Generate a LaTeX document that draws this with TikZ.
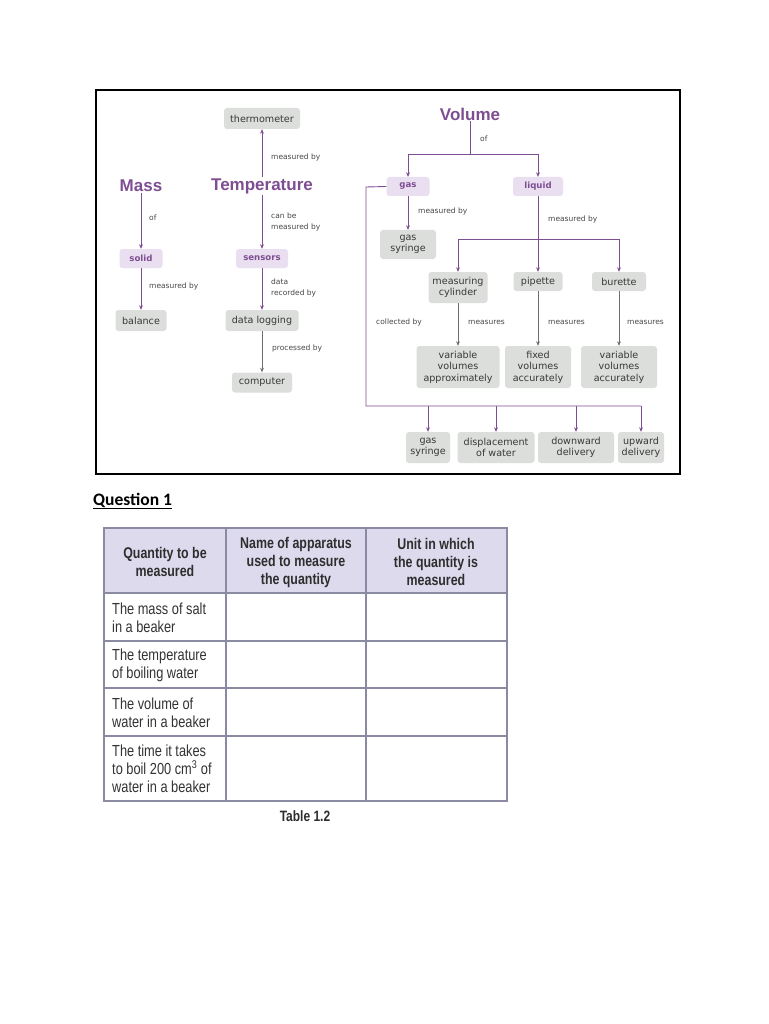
\documentclass[tikz,border=0pt]{standalone}
\usepackage{fontspec}
\setmainfont{DejaVu Sans}
\newfontfamily\titlefont{Liberation Sans}
\newfontfamily\narrowfont[FakeStretch=0.8]{Liberation Sans}
\newfontfamily\qfont{Carlito}
\usetikzlibrary{arrows.meta}
\definecolor{conceptpurple}{HTML}{7E4E93}
\definecolor{boxpurple}{HTML}{EADFF0}
\definecolor{boxgray}{HTML}{DCDEDB}
\definecolor{linegray}{HTML}{6E6E6E}
\definecolor{tablehead}{HTML}{DDDAEE}
\definecolor{tableline}{HTML}{8B8AA3}
\tikzset{
  concept/.style={font=\titlefont\bfseries\fontsize{17}{17}\selectfont, text=conceptpurple, inner sep=1pt},
  phase/.style={fill=boxpurple, rounded corners=3pt, text=conceptpurple, font=\bfseries\fontsize{8.6}{10}\selectfont, inner sep=0pt, minimum height=19pt},
  apparatus/.style={fill=boxgray, rounded corners=3pt, text=black!78, font=\fontsize{9.6}{11.5}\selectfont, align=center, inner sep=0pt},
  linklabel/.style={font=\fontsize{7.5}{10.5}\selectfont, text=black!72, anchor=west, align=left, inner sep=0pt},
  purpleline/.style={draw=conceptpurple, line width=0.9pt},
  purplearrow/.style={purpleline, -{Stealth[length=4.5pt,width=3.8pt]}},
  grayarrow/.style={draw=linegray, line width=0.9pt, -{Stealth[length=4.5pt,width=3.8pt]}},
  headcell/.style={font=\narrowfont\bfseries\fontsize{15.5}{18}\selectfont, text=black!82, align=center, inner sep=0pt},
  rowcell/.style={font=\narrowfont\fontsize{16}{18}\selectfont, text=black!80, align=left, anchor=west, inner sep=0pt}
}
\begin{document}
\begin{tikzpicture}[x=1pt,y=-1pt]
\useasboundingbox[fill=white] (0,0) rectangle (768,1024);
\draw[line width=2.6pt] (96,90) rectangle (680,474);

\node[concept] (mass) at (141,186) {Mass};
\node[concept] (temp) at (262,186) {Temperature};
\node[concept] (volume) at (470,114) {Volume};

\node[apparatus, minimum width=76pt, minimum height=21pt] (thermo) at (262,118.5) {thermometer};
\node[phase, minimum width=43pt] (solid) at (141,258.5) {solid};
\node[apparatus, minimum width=51pt, minimum height=21pt] (balance) at (141,320.5) {balance};
\node[phase, minimum width=52pt] (sensors) at (262,258.5) {sensors};
\node[apparatus, minimum width=73pt, minimum height=21pt] (logging) at (262,320.5) {data logging};
\node[apparatus, minimum width=60pt, minimum height=20pt] (computer) at (262,382.5) {computer};

\node[phase, minimum width=43pt] (gas) at (408,186.5) {gas};
\node[phase, minimum width=50pt] (liquid) at (538,186.5) {liquid};
\node[apparatus, minimum width=56pt, minimum height=29pt] (gsyr) at (408,244.5) {gas\\syringe};
\node[apparatus, minimum width=59pt, minimum height=31pt] (mcyl) at (458,287.5) {measuring\\cylinder};
\node[apparatus, minimum width=49pt, minimum height=19pt] (pipette) at (538,281.5) {pipette};
\node[apparatus, minimum width=54pt, minimum height=19pt] (burette) at (619,281.5) {burette};
\node[apparatus, minimum width=83pt, minimum height=42pt] (varapprox) at (458,367) {variable\\volumes\\approximately};
\node[apparatus, minimum width=66pt, minimum height=42pt] (fixedacc) at (538,367) {fixed\\volumes\\accurately};
\node[apparatus, minimum width=76pt, minimum height=42pt] (varacc) at (619,367) {variable\\volumes\\accurately};
\node[apparatus, minimum width=44pt, minimum height=31pt] (csyr) at (428,447.5) {gas\\syringe};
\node[apparatus, minimum width=77pt, minimum height=31pt] (displ) at (496,447.5) {displacement\\of water};
\node[apparatus, minimum width=76pt, minimum height=31pt] (downdel) at (576,447.5) {downward\\delivery};
\node[apparatus, minimum width=46pt, minimum height=31pt] (updel) at (641,447.5) {upward\\delivery};

\coordinate (vsplit) at (470,154);
\coordinate (lsplit) at (538,239);
\coordinate (gasturn) at (366,187);
\coordinate (gasrail) at (366,406);
\coordinate (railend) at (641,406);

\draw[purplearrow] (temp) -- (thermo);
\draw[purplearrow] (mass) -- (solid);
\draw[purplearrow] (solid) -- (balance);
\draw[purplearrow] (temp) -- (sensors);
\draw[purplearrow] (sensors) -- (logging);
\draw[grayarrow] (logging) -- (computer);
\draw[purpleline] (volume) -- (vsplit);
\draw[purplearrow] (vsplit) -| (gas);
\draw[purplearrow] (vsplit) -| (liquid);
\draw[purplearrow] (gas) -- (gsyr);
\draw[purplearrow] (liquid) -- (pipette);
\draw[purplearrow] (lsplit) -| (mcyl);
\draw[purplearrow] (lsplit) -| (burette);
\draw[grayarrow] (mcyl) -- (varapprox);
\draw[grayarrow] (pipette) -- (fixedacc);
\draw[grayarrow] (burette) -- (varacc);
\draw[purpleline] (gas.west) -- (gasturn) -- (gasrail) -- (railend);
\draw[purplearrow] (gasrail -| csyr) -- (csyr);
\draw[purplearrow] (gasrail -| displ) -- (displ);
\draw[purplearrow] (gasrail -| downdel) -- (downdel);
\draw[purplearrow] (railend) -- (updel);

\node[linklabel] (lthermo) at (271,157) {measured by};
\node[linklabel] (lmass) at (149,218) {of};
\node[linklabel] (lsolid) at (149,286) {measured by};
\node[linklabel] (lsensors) at (271,222) {can be\\measured by};
\node[linklabel] (llogging) at (271,288) {data\\recorded by};
\node[linklabel] (lcomputer) at (272,348) {processed by};
\node[linklabel] (lvolume) at (480,139) {of};
\node[linklabel] (lgas) at (418,211) {measured by};
\node[linklabel] (lliquid) at (548,219) {measured by};
\node[linklabel] (lcollect) at (376,322) {collected by};
\node[linklabel] (lmcyl) at (468,322) {measures};
\node[linklabel] (lpipette) at (548,322) {measures};
\node[linklabel] (lburette) at (627,322) {measures};

\node[anchor=base west, inner sep=0pt, font=\qfont\bfseries\fontsize{17.5}{17.5}\selectfont] (question) at (93,505) {\underline{Question 1}};

\fill[tablehead] (104,528) rectangle (507,593);
\draw[tableline, line width=1.2pt] (104,528) rectangle (507,801);
\foreach \y in {593,641,688,736} \draw[tableline, line width=1.1pt] (104,\y) -- (507,\y);
\foreach \x in {226,366} \draw[tableline, line width=1.1pt] (\x,528) -- (\x,801);

\node[headcell] (hquantity) at (165,562) {Quantity to be\\measured};
\node[headcell] (happaratus) at (296,562) {Name of apparatus\\used to measure\\the quantity};
\node[headcell] (hunit) at (436,562) {Unit in which\\the quantity is\\measured};
\node[rowcell] (rmass) at (112,618) {The mass of salt\\in a beaker};
\node[rowcell] (rtemp) at (112,665) {The temperature\\of boiling water};
\node[rowcell] (rvolume) at (112,713) {The volume of\\water in a beaker};
\node[rowcell] (rtime) at (112,769) {The time it takes\\to boil 200 cm\textsuperscript{3} of\\water in a beaker};
\node[font=\narrowfont\bfseries\fontsize{15}{15}\selectfont, text=black!82] (caption) at (305,816) {Table 1.2};
\end{tikzpicture}
\end{document}
